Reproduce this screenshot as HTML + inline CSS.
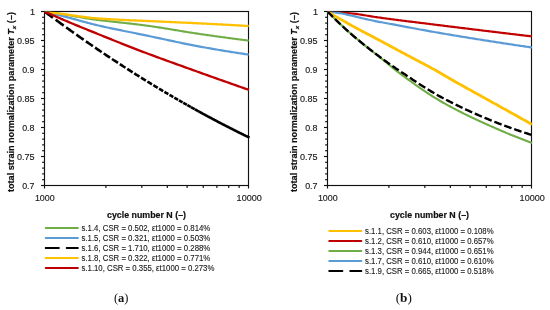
<!DOCTYPE html>
<html lang="en"><head><meta charset="utf-8"><title>Figure</title>
<style>html,body{margin:0;padding:0;background:#fff}svg{display:block}</style></head>
<body>
<svg width="550" height="310" viewBox="0 0 550 310" font-family="'Liberation Sans', sans-serif">
<rect width="550" height="310" fill="#fff"/>
<rect x="44.5" y="11.5" width="204" height="174" fill="none" stroke="#111" stroke-width="1.15"/>
<line x1="41.0" y1="11.50" x2="44.5" y2="11.50" stroke="#111" stroke-width="1.15"/>
<line x1="42.1" y1="17.30" x2="44.5" y2="17.30" stroke="#111" stroke-width="1.15"/>
<line x1="42.1" y1="23.10" x2="44.5" y2="23.10" stroke="#111" stroke-width="1.15"/>
<line x1="42.1" y1="28.90" x2="44.5" y2="28.90" stroke="#111" stroke-width="1.15"/>
<line x1="42.1" y1="34.70" x2="44.5" y2="34.70" stroke="#111" stroke-width="1.15"/>
<line x1="41.0" y1="40.50" x2="44.5" y2="40.50" stroke="#111" stroke-width="1.15"/>
<line x1="42.1" y1="46.30" x2="44.5" y2="46.30" stroke="#111" stroke-width="1.15"/>
<line x1="42.1" y1="52.10" x2="44.5" y2="52.10" stroke="#111" stroke-width="1.15"/>
<line x1="42.1" y1="57.90" x2="44.5" y2="57.90" stroke="#111" stroke-width="1.15"/>
<line x1="42.1" y1="63.70" x2="44.5" y2="63.70" stroke="#111" stroke-width="1.15"/>
<line x1="41.0" y1="69.50" x2="44.5" y2="69.50" stroke="#111" stroke-width="1.15"/>
<line x1="42.1" y1="75.30" x2="44.5" y2="75.30" stroke="#111" stroke-width="1.15"/>
<line x1="42.1" y1="81.10" x2="44.5" y2="81.10" stroke="#111" stroke-width="1.15"/>
<line x1="42.1" y1="86.90" x2="44.5" y2="86.90" stroke="#111" stroke-width="1.15"/>
<line x1="42.1" y1="92.70" x2="44.5" y2="92.70" stroke="#111" stroke-width="1.15"/>
<line x1="41.0" y1="98.50" x2="44.5" y2="98.50" stroke="#111" stroke-width="1.15"/>
<line x1="42.1" y1="104.30" x2="44.5" y2="104.30" stroke="#111" stroke-width="1.15"/>
<line x1="42.1" y1="110.10" x2="44.5" y2="110.10" stroke="#111" stroke-width="1.15"/>
<line x1="42.1" y1="115.90" x2="44.5" y2="115.90" stroke="#111" stroke-width="1.15"/>
<line x1="42.1" y1="121.70" x2="44.5" y2="121.70" stroke="#111" stroke-width="1.15"/>
<line x1="41.0" y1="127.50" x2="44.5" y2="127.50" stroke="#111" stroke-width="1.15"/>
<line x1="42.1" y1="133.30" x2="44.5" y2="133.30" stroke="#111" stroke-width="1.15"/>
<line x1="42.1" y1="139.10" x2="44.5" y2="139.10" stroke="#111" stroke-width="1.15"/>
<line x1="42.1" y1="144.90" x2="44.5" y2="144.90" stroke="#111" stroke-width="1.15"/>
<line x1="42.1" y1="150.70" x2="44.5" y2="150.70" stroke="#111" stroke-width="1.15"/>
<line x1="41.0" y1="156.50" x2="44.5" y2="156.50" stroke="#111" stroke-width="1.15"/>
<line x1="42.1" y1="162.30" x2="44.5" y2="162.30" stroke="#111" stroke-width="1.15"/>
<line x1="42.1" y1="168.10" x2="44.5" y2="168.10" stroke="#111" stroke-width="1.15"/>
<line x1="42.1" y1="173.90" x2="44.5" y2="173.90" stroke="#111" stroke-width="1.15"/>
<line x1="42.1" y1="179.70" x2="44.5" y2="179.70" stroke="#111" stroke-width="1.15"/>
<line x1="41.0" y1="185.50" x2="44.5" y2="185.50" stroke="#111" stroke-width="1.15"/>
<text x="30.1" y="14.5" font-size="9.0" fill="#1a1a1a" stroke="#1a1a1a" stroke-width="0.15">1</text>
<text x="16.9" y="43.5" font-size="9.0" fill="#1a1a1a" stroke="#1a1a1a" stroke-width="0.15" textLength="17.6" lengthAdjust="spacingAndGlyphs">0.95</text>
<text x="22.2" y="72.5" font-size="9.0" fill="#1a1a1a" stroke="#1a1a1a" stroke-width="0.15" textLength="12.3" lengthAdjust="spacingAndGlyphs">0.9</text>
<text x="16.9" y="101.5" font-size="9.0" fill="#1a1a1a" stroke="#1a1a1a" stroke-width="0.15" textLength="17.6" lengthAdjust="spacingAndGlyphs">0.85</text>
<text x="22.2" y="130.5" font-size="9.0" fill="#1a1a1a" stroke="#1a1a1a" stroke-width="0.15" textLength="12.3" lengthAdjust="spacingAndGlyphs">0.8</text>
<text x="16.9" y="159.5" font-size="9.0" fill="#1a1a1a" stroke="#1a1a1a" stroke-width="0.15" textLength="17.6" lengthAdjust="spacingAndGlyphs">0.75</text>
<text x="22.2" y="188.5" font-size="9.0" fill="#1a1a1a" stroke="#1a1a1a" stroke-width="0.15" textLength="12.3" lengthAdjust="spacingAndGlyphs">0.7</text>
<line x1="44.50" y1="185.5" x2="44.50" y2="188.5" stroke="#111" stroke-width="1.15"/>
<line x1="105.91" y1="185.5" x2="105.91" y2="187.9" stroke="#111" stroke-width="1.15"/>
<line x1="141.83" y1="185.5" x2="141.83" y2="187.9" stroke="#111" stroke-width="1.15"/>
<line x1="167.32" y1="185.5" x2="167.32" y2="187.9" stroke="#111" stroke-width="1.15"/>
<line x1="187.09" y1="185.5" x2="187.09" y2="187.9" stroke="#111" stroke-width="1.15"/>
<line x1="203.24" y1="185.5" x2="203.24" y2="187.9" stroke="#111" stroke-width="1.15"/>
<line x1="216.90" y1="185.5" x2="216.90" y2="187.9" stroke="#111" stroke-width="1.15"/>
<line x1="228.73" y1="185.5" x2="228.73" y2="187.9" stroke="#111" stroke-width="1.15"/>
<line x1="239.17" y1="185.5" x2="239.17" y2="187.9" stroke="#111" stroke-width="1.15"/>
<line x1="248.50" y1="185.5" x2="248.50" y2="188.5" stroke="#111" stroke-width="1.15"/>
<text x="34.9" y="201.3" font-size="9.0" fill="#1a1a1a" stroke="#1a1a1a" stroke-width="0.15" textLength="19.8" lengthAdjust="spacingAndGlyphs">1000</text>
<text x="236.6" y="201.3" font-size="9.0" fill="#1a1a1a" stroke="#1a1a1a" stroke-width="0.15" textLength="25.2" lengthAdjust="spacingAndGlyphs">10000</text>
<text x="146.5" y="217.8" text-anchor="middle" font-size="9.1" font-weight="bold" fill="#111" stroke="#111" stroke-width="0.2" textLength="79" lengthAdjust="spacingAndGlyphs">cycle number N (–)</text>
<text transform="translate(14.3,102) rotate(-90)" text-anchor="middle" font-size="9.1" font-weight="bold" fill="#111" stroke="#111" stroke-width="0.2" textLength="180" lengthAdjust="spacingAndGlyphs">total strain normalization parameter <tspan font-style="italic">T</tspan><tspan font-style="italic" font-size="6.2" dy="1.6">x</tspan><tspan dy="-1.6"> (–)</tspan></text>
<clipPath id="clip44"><rect x="44.3" y="11.8" width="205.7" height="174"/></clipPath><g clip-path="url(#clip44)">
<path d="M44.50,11.50 L45.78,11.70 L47.07,11.89 L48.35,12.09 L49.64,12.29 L50.92,12.49 L52.21,12.69 L53.49,12.89 L54.77,13.09 L56.06,13.29 L57.34,13.49 L58.63,13.69 L59.91,13.90 L61.20,14.10 L62.48,14.30 L63.76,14.51 L65.05,14.71 L66.33,14.91 L67.62,15.12 L68.90,15.32 L70.19,15.53 L71.47,15.74 L72.75,15.95 L74.04,16.17 L75.32,16.39 L76.61,16.61 L77.89,16.83 L79.18,17.05 L80.46,17.28 L81.74,17.50 L83.03,17.72 L84.31,17.94 L85.60,18.16 L86.88,18.37 L88.17,18.58 L89.45,18.79 L90.73,18.99 L92.02,19.18 L93.30,19.36 L94.59,19.54 L95.87,19.72 L97.16,19.88 L98.44,20.04 L99.72,20.20 L101.01,20.35 L102.29,20.49 L103.58,20.64 L104.86,20.78 L106.15,20.92 L107.43,21.06 L108.71,21.20 L110.00,21.34 L111.28,21.48 L112.57,21.62 L113.85,21.77 L115.14,21.92 L116.42,22.06 L117.70,22.21 L118.99,22.36 L120.27,22.50 L121.56,22.64 L122.84,22.79 L124.13,22.93 L125.41,23.07 L126.69,23.22 L127.98,23.36 L129.26,23.51 L130.55,23.65 L131.83,23.80 L133.12,23.95 L134.40,24.09 L135.68,24.24 L136.97,24.40 L138.25,24.55 L139.54,24.71 L140.82,24.87 L142.11,25.03 L143.39,25.19 L144.67,25.36 L145.96,25.53 L147.24,25.70 L148.53,25.88 L149.81,26.06 L151.09,26.24 L152.38,26.43 L153.66,26.62 L154.95,26.81 L156.23,27.00 L157.52,27.20 L158.80,27.40 L160.08,27.60 L161.37,27.80 L162.65,28.00 L163.94,28.21 L165.22,28.42 L166.51,28.62 L167.79,28.83 L169.07,29.04 L170.36,29.26 L171.64,29.47 L172.93,29.68 L174.21,29.89 L175.50,30.11 L176.78,30.32 L178.06,30.53 L179.35,30.74 L180.63,30.96 L181.92,31.17 L183.20,31.38 L184.49,31.59 L185.77,31.80 L187.05,32.00 L188.34,32.21 L189.62,32.42 L190.91,32.62 L192.19,32.82 L193.48,33.02 L194.76,33.22 L196.04,33.41 L197.33,33.61 L198.61,33.80 L199.90,33.99 L201.18,34.17 L202.47,34.36 L203.75,34.54 L205.03,34.73 L206.32,34.91 L207.60,35.09 L208.89,35.27 L210.17,35.46 L211.46,35.64 L212.74,35.82 L214.02,36.00 L215.31,36.18 L216.59,36.35 L217.88,36.53 L219.16,36.71 L220.45,36.88 L221.73,37.06 L223.01,37.24 L224.30,37.41 L225.58,37.58 L226.87,37.76 L228.15,37.93 L229.44,38.10 L230.72,38.27 L232.00,38.44 L233.29,38.61 L234.57,38.78 L235.86,38.95 L237.14,39.12 L238.43,39.29 L239.71,39.45 L240.99,39.62 L242.28,39.78 L243.56,39.95 L244.85,40.11 L246.13,40.28 L247.42,40.44 L248.70,40.60" fill="none" stroke="#70AD47" stroke-width="2.1" stroke-linejoin="round" stroke-linecap="butt"/>
<path d="M44.50,11.50 L45.78,11.82 L47.07,12.14 L48.35,12.46 L49.64,12.78 L50.92,13.11 L52.21,13.43 L53.49,13.75 L54.77,14.08 L56.06,14.41 L57.34,14.73 L58.63,15.06 L59.91,15.39 L61.20,15.72 L62.48,16.05 L63.76,16.38 L65.05,16.71 L66.33,17.04 L67.62,17.38 L68.90,17.71 L70.19,18.05 L71.47,18.39 L72.75,18.73 L74.04,19.08 L75.32,19.43 L76.61,19.78 L77.89,20.14 L79.18,20.50 L80.46,20.85 L81.74,21.21 L83.03,21.57 L84.31,21.92 L85.60,22.27 L86.88,22.62 L88.17,22.96 L89.45,23.30 L90.73,23.64 L92.02,23.97 L93.30,24.29 L94.59,24.60 L95.87,24.91 L97.16,25.21 L98.44,25.51 L99.72,25.80 L101.01,26.10 L102.29,26.39 L103.58,26.67 L104.86,26.96 L106.15,27.24 L107.43,27.51 L108.71,27.79 L110.00,28.06 L111.28,28.34 L112.57,28.61 L113.85,28.87 L115.14,29.14 L116.42,29.41 L117.70,29.67 L118.99,29.93 L120.27,30.19 L121.56,30.45 L122.84,30.71 L124.13,30.97 L125.41,31.23 L126.69,31.49 L127.98,31.75 L129.26,32.00 L130.55,32.26 L131.83,32.52 L133.12,32.78 L134.40,33.03 L135.68,33.29 L136.97,33.55 L138.25,33.81 L139.54,34.07 L140.82,34.34 L142.11,34.60 L143.39,34.87 L144.67,35.13 L145.96,35.40 L147.24,35.67 L148.53,35.94 L149.81,36.21 L151.09,36.48 L152.38,36.76 L153.66,37.03 L154.95,37.31 L156.23,37.58 L157.52,37.86 L158.80,38.13 L160.08,38.41 L161.37,38.69 L162.65,38.96 L163.94,39.24 L165.22,39.52 L166.51,39.79 L167.79,40.07 L169.07,40.35 L170.36,40.62 L171.64,40.89 L172.93,41.17 L174.21,41.44 L175.50,41.71 L176.78,41.98 L178.06,42.25 L179.35,42.52 L180.63,42.79 L181.92,43.06 L183.20,43.32 L184.49,43.58 L185.77,43.85 L187.05,44.10 L188.34,44.36 L189.62,44.62 L190.91,44.87 L192.19,45.12 L193.48,45.37 L194.76,45.62 L196.04,45.86 L197.33,46.11 L198.61,46.34 L199.90,46.58 L201.18,46.82 L202.47,47.05 L203.75,47.28 L205.03,47.51 L206.32,47.74 L207.60,47.97 L208.89,48.20 L210.17,48.42 L211.46,48.65 L212.74,48.87 L214.02,49.09 L215.31,49.32 L216.59,49.54 L217.88,49.75 L219.16,49.97 L220.45,50.19 L221.73,50.40 L223.01,50.62 L224.30,50.83 L225.58,51.04 L226.87,51.25 L228.15,51.46 L229.44,51.66 L230.72,51.87 L232.00,52.07 L233.29,52.28 L234.57,52.48 L235.86,52.68 L237.14,52.88 L238.43,53.07 L239.71,53.27 L240.99,53.46 L242.28,53.66 L243.56,53.85 L244.85,54.04 L246.13,54.23 L247.42,54.41 L248.70,54.60" fill="none" stroke="#5B9BD5" stroke-width="2.2" stroke-linejoin="round" stroke-linecap="butt"/>
<path d="M44.50,11.50 L45.27,12.07 L46.03,12.64 L46.80,13.21 L47.56,13.78 L48.33,14.35 L49.10,14.92 L49.87,15.49 L50.64,16.06 L51.40,16.62 L52.17,17.19 L52.94,17.76 M55.62,19.72 L56.42,20.31 L57.22,20.90 L58.03,21.48 L58.83,22.07 L59.64,22.66 L60.44,23.24 L61.25,23.83 L62.05,24.41 L62.86,24.99 L63.66,25.58 M66.21,27.41 L66.98,27.96 L67.74,28.51 L68.51,29.06 L69.28,29.61 L70.04,30.16 L70.81,30.70 L71.58,31.25 L72.34,31.80 L73.11,32.34 L73.88,32.89 M76.31,34.60 L77.12,35.18 L77.93,35.75 L78.74,36.32 L79.55,36.89 L80.36,37.45 L81.17,38.02 L81.98,38.59 L82.79,39.16 L83.60,39.72 M85.92,41.33 L86.69,41.86 L87.46,42.40 L88.23,42.93 L89.00,43.46 L89.77,43.99 L90.54,44.52 L91.31,45.05 L92.08,45.58 L92.86,46.11 M95.06,47.62 L95.88,48.18 L96.70,48.74 L97.53,49.30 L98.35,49.86 L99.18,50.42 L100.00,50.97 L100.83,51.53 L101.66,52.09 M103.74,53.49 L104.53,54.02 L105.31,54.54 L106.09,55.07 L106.88,55.59 L107.66,56.11 L108.45,56.63 L109.23,57.15 L110.02,57.68 M112.00,58.99 L112.74,59.48 L113.49,59.97 L114.23,60.46 L114.97,60.95 L115.72,61.44 L116.46,61.92 L117.21,62.41 L117.95,62.90 M119.84,64.12 L120.65,64.65 L121.45,65.17 L122.26,65.69 L123.07,66.22 L123.87,66.74 L124.68,67.26 L125.49,67.78 M127.28,68.93 L128.04,69.42 L128.81,69.91 L129.57,70.39 L130.34,70.88 L131.11,71.37 L131.87,71.86 L132.64,72.34 M134.34,73.42 L135.06,73.87 L135.79,74.33 L136.51,74.79 L137.24,75.24 L137.96,75.70 L138.69,76.15 L139.42,76.61 M141.03,77.61 L141.83,78.11 L142.63,78.61 L143.43,79.11 L144.24,79.61 L145.04,80.10 L145.84,80.60 M147.37,81.54 L148.13,82.00 L148.89,82.47 L149.65,82.94 L150.41,83.40 L151.17,83.87 L151.93,84.33 M153.37,85.21 L154.09,85.64 L154.81,86.08 L155.53,86.51 L156.25,86.95 L156.97,87.38 L157.69,87.82 M159.06,88.64 L159.87,89.13 L160.69,89.62 L161.51,90.11 L162.33,90.59 L163.15,91.08 M164.44,91.85 L165.21,92.31 L165.98,92.76 L166.76,93.22 L167.53,93.68 L168.31,94.13 M169.53,94.85 L170.27,95.29 L171.02,95.72 L171.76,96.16 L172.50,96.59 L173.25,97.02 M174.35,97.66 L175.08,98.09 L175.82,98.52 L176.56,98.94 L177.30,99.37 L178.04,99.79 M178.90,100.29 L179.63,100.71 L180.36,101.13 L181.08,101.54 L181.81,101.96 L182.54,102.38 M183.20,102.75 L183.92,103.16 L184.63,103.56 L185.35,103.97 L186.07,104.38 L186.79,104.78 M187.27,105.05 L187.97,105.45 L188.67,105.84 L189.37,106.24 L190.08,106.63 L190.78,107.02 M191.11,107.21 L191.83,107.61 L192.56,108.02 L193.29,108.42 L194.01,108.83 L194.74,109.23 M194.95,109.35 L195.70,109.76 L196.46,110.18 L197.21,110.59 L197.96,111.01 L198.71,111.42 M198.81,111.47 L199.58,111.90 L200.36,112.32 L201.14,112.75 L201.91,113.17 L202.69,113.60 M202.67,113.58 L203.47,114.02 L204.27,114.45 L205.07,114.89 L205.88,115.32 L206.68,115.76 M206.54,115.68 L207.35,116.12 L208.16,116.55 L208.98,116.99 L209.79,117.43 L210.61,117.86 M210.41,117.76 L211.23,118.19 L212.04,118.63 L212.86,119.06 L213.68,119.49 L214.49,119.93 M214.30,119.82 L215.12,120.26 L215.93,120.69 L216.75,121.12 L217.57,121.55 L218.39,121.98 M218.19,121.87 L219.01,122.30 L219.83,122.73 L220.65,123.16 L221.47,123.58 L222.29,124.01 M222.09,123.91 L222.91,124.33 L223.73,124.76 L224.55,125.18 L225.38,125.61 L226.20,126.03 M226.00,125.93 L226.82,126.35 L227.65,126.77 L228.47,127.19 L229.29,127.61 L230.11,128.03 M229.92,127.93 L230.74,128.35 L231.57,128.77 L232.39,129.19 L233.22,129.60 L234.04,130.02 M233.84,129.92 L234.67,130.34 L235.49,130.75 L236.32,131.17 L237.15,131.58 L237.97,131.99 M237.78,131.89 L238.60,132.31 L239.43,132.72 L240.26,133.13 L241.09,133.54 L241.92,133.95 M241.72,133.85 L242.55,134.26 L243.38,134.67 L244.20,135.08 L245.03,135.48 L245.86,135.89 M245.67,135.79 L246.43,136.17 L247.20,136.54 L247.97,136.91 L248.73,137.28 L249.50,137.66" fill="none" stroke="#000" stroke-width="2.6" stroke-linecap="butt"/>
<path d="M44.50,11.50 L45.78,11.68 L47.07,11.86 L48.35,12.04 L49.64,12.22 L50.92,12.40 L52.21,12.58 L53.49,12.76 L54.77,12.94 L56.06,13.12 L57.34,13.29 L58.63,13.47 L59.91,13.64 L61.20,13.82 L62.48,13.99 L63.76,14.17 L65.05,14.34 L66.33,14.51 L67.62,14.68 L68.90,14.85 L70.19,15.02 L71.47,15.20 L72.75,15.37 L74.04,15.55 L75.32,15.73 L76.61,15.92 L77.89,16.10 L79.18,16.28 L80.46,16.46 L81.74,16.64 L83.03,16.82 L84.31,16.99 L85.60,17.16 L86.88,17.33 L88.17,17.49 L89.45,17.64 L90.73,17.78 L92.02,17.92 L93.30,18.05 L94.59,18.16 L95.87,18.27 L97.16,18.38 L98.44,18.48 L99.72,18.58 L101.01,18.67 L102.29,18.76 L103.58,18.85 L104.86,18.94 L106.15,19.02 L107.43,19.10 L108.71,19.18 L110.00,19.25 L111.28,19.33 L112.57,19.40 L113.85,19.47 L115.14,19.54 L116.42,19.61 L117.70,19.68 L118.99,19.75 L120.27,19.81 L121.56,19.88 L122.84,19.94 L124.13,20.00 L125.41,20.06 L126.69,20.12 L127.98,20.18 L129.26,20.24 L130.55,20.29 L131.83,20.35 L133.12,20.40 L134.40,20.45 L135.68,20.51 L136.97,20.56 L138.25,20.61 L139.54,20.66 L140.82,20.71 L142.11,20.77 L143.39,20.82 L144.67,20.87 L145.96,20.93 L147.24,20.98 L148.53,21.04 L149.81,21.09 L151.09,21.15 L152.38,21.21 L153.66,21.26 L154.95,21.32 L156.23,21.38 L157.52,21.43 L158.80,21.49 L160.08,21.55 L161.37,21.61 L162.65,21.66 L163.94,21.72 L165.22,21.78 L166.51,21.84 L167.79,21.89 L169.07,21.95 L170.36,22.01 L171.64,22.07 L172.93,22.13 L174.21,22.18 L175.50,22.24 L176.78,22.30 L178.06,22.36 L179.35,22.42 L180.63,22.48 L181.92,22.54 L183.20,22.60 L184.49,22.66 L185.77,22.72 L187.05,22.78 L188.34,22.84 L189.62,22.90 L190.91,22.96 L192.19,23.02 L193.48,23.08 L194.76,23.14 L196.04,23.21 L197.33,23.27 L198.61,23.33 L199.90,23.39 L201.18,23.46 L202.47,23.52 L203.75,23.59 L205.03,23.65 L206.32,23.72 L207.60,23.78 L208.89,23.85 L210.17,23.91 L211.46,23.98 L212.74,24.04 L214.02,24.11 L215.31,24.18 L216.59,24.24 L217.88,24.31 L219.16,24.38 L220.45,24.45 L221.73,24.51 L223.01,24.58 L224.30,24.65 L225.58,24.72 L226.87,24.79 L228.15,24.86 L229.44,24.93 L230.72,25.00 L232.00,25.07 L233.29,25.14 L234.57,25.21 L235.86,25.28 L237.14,25.35 L238.43,25.42 L239.71,25.49 L240.99,25.56 L242.28,25.64 L243.56,25.71 L244.85,25.78 L246.13,25.85 L247.42,25.93 L248.70,26.00" fill="none" stroke="#FFC000" stroke-width="2.3" stroke-linejoin="round" stroke-linecap="butt"/>
<path d="M44.50,11.50 L45.79,12.08 L47.07,12.65 L48.36,13.22 L49.64,13.80 L50.93,14.37 L52.22,14.93 L53.50,15.50 L54.79,16.06 L56.08,16.63 L57.36,17.19 L58.65,17.75 L59.93,18.30 L61.22,18.86 L62.51,19.41 L63.79,19.96 L65.08,20.51 L66.36,21.06 L67.65,21.61 L68.94,22.15 L70.22,22.69 L71.51,23.23 L72.80,23.77 L74.08,24.31 L75.37,24.84 L76.65,25.37 L77.94,25.90 L79.23,26.42 L80.51,26.95 L81.80,27.47 L83.08,27.99 L84.37,28.51 L85.66,29.03 L86.94,29.55 L88.23,30.07 L89.52,30.59 L90.80,31.11 L92.09,31.63 L93.37,32.14 L94.66,32.66 L95.95,33.18 L97.23,33.70 L98.52,34.22 L99.81,34.74 L101.09,35.26 L102.38,35.79 L103.66,36.31 L104.95,36.83 L106.24,37.35 L107.52,37.87 L108.81,38.39 L110.09,38.91 L111.38,39.43 L112.67,39.95 L113.95,40.47 L115.24,40.99 L116.53,41.50 L117.81,42.02 L119.10,42.54 L120.38,43.05 L121.67,43.56 L122.96,44.08 L124.24,44.59 L125.53,45.10 L126.81,45.61 L128.10,46.11 L129.39,46.62 L130.67,47.12 L131.96,47.62 L133.25,48.12 L134.53,48.62 L135.82,49.12 L137.10,49.61 L138.39,50.10 L139.68,50.59 L140.96,51.08 L142.25,51.57 L143.53,52.05 L144.82,52.54 L146.11,53.02 L147.39,53.50 L148.68,53.98 L149.97,54.46 L151.25,54.94 L152.54,55.42 L153.82,55.89 L155.11,56.37 L156.40,56.84 L157.68,57.31 L158.97,57.78 L160.25,58.25 L161.54,58.72 L162.83,59.19 L164.11,59.66 L165.40,60.13 L166.69,60.59 L167.97,61.06 L169.26,61.53 L170.54,61.99 L171.83,62.46 L173.12,62.92 L174.40,63.38 L175.69,63.85 L176.97,64.31 L178.26,64.77 L179.55,65.24 L180.83,65.70 L182.12,66.16 L183.41,66.62 L184.69,67.09 L185.98,67.55 L187.26,68.01 L188.55,68.47 L189.84,68.93 L191.12,69.40 L192.41,69.86 L193.69,70.32 L194.98,70.78 L196.27,71.25 L197.55,71.71 L198.84,72.17 L200.13,72.63 L201.41,73.09 L202.70,73.55 L203.98,74.01 L205.27,74.47 L206.56,74.93 L207.84,75.39 L209.13,75.85 L210.42,76.31 L211.70,76.77 L212.99,77.22 L214.27,77.68 L215.56,78.14 L216.85,78.60 L218.13,79.05 L219.42,79.51 L220.70,79.96 L221.99,80.42 L223.28,80.87 L224.56,81.33 L225.85,81.78 L227.14,82.24 L228.42,82.69 L229.71,83.14 L230.99,83.60 L232.28,84.05 L233.57,84.50 L234.85,84.95 L236.14,85.40 L237.42,85.86 L238.71,86.31 L240.00,86.76 L241.28,87.21 L242.57,87.66 L243.86,88.11 L245.14,88.56 L246.43,89.00 L247.71,89.45 L249.00,89.90" fill="none" stroke="#C00000" stroke-width="2.3" stroke-linejoin="round" stroke-linecap="butt"/>
</g>
<line x1="45.7" y1="228" x2="77.9" y2="228" stroke="#70AD47" stroke-width="1.9" stroke-linecap="round"/>
<text x="81.5" y="231.1" font-size="8.4" fill="#1a1a1a" stroke="#1a1a1a" stroke-width="0.12" textLength="128.8" lengthAdjust="spacingAndGlyphs">s.1.4, CSR = 0.502, εt1000 = 0.814%</text>
<line x1="45.7" y1="238" x2="77.9" y2="238" stroke="#5B9BD5" stroke-width="1.9" stroke-linecap="round"/>
<text x="81.5" y="241.1" font-size="8.4" fill="#1a1a1a" stroke="#1a1a1a" stroke-width="0.12" textLength="128.8" lengthAdjust="spacingAndGlyphs">s.1.5, CSR = 0.321, εt1000 = 0.503%</text>
<path d="M45.7,248 h13.2 M66.7,248 h11.2" stroke="#000" stroke-width="1.9" stroke-linecap="round" fill="none"/>
<text x="81.5" y="251.1" font-size="8.4" fill="#1a1a1a" stroke="#1a1a1a" stroke-width="0.12" textLength="128.8" lengthAdjust="spacingAndGlyphs">s.1.6, CSR = 1.710, εt1000 = 0.288%</text>
<line x1="45.7" y1="258" x2="77.9" y2="258" stroke="#FFC000" stroke-width="1.9" stroke-linecap="round"/>
<text x="81.5" y="261.1" font-size="8.4" fill="#1a1a1a" stroke="#1a1a1a" stroke-width="0.12" textLength="128.8" lengthAdjust="spacingAndGlyphs">s.1.8, CSR = 0.322, εt1000 = 0.771%</text>
<line x1="45.7" y1="268" x2="77.9" y2="268" stroke="#C00000" stroke-width="1.9" stroke-linecap="round"/>
<text x="81.5" y="271.1" font-size="8.4" fill="#1a1a1a" stroke="#1a1a1a" stroke-width="0.12" textLength="132.8" lengthAdjust="spacingAndGlyphs">s.1.10, CSR = 0.355, εt1000 = 0.273%</text>
<text x="121.2" y="302.3" text-anchor="middle" font-family="'Liberation Serif', serif" font-size="12.5" fill="#111">(<tspan font-weight="bold">a</tspan>)</text>
<rect x="327.5" y="11.5" width="204" height="174" fill="none" stroke="#111" stroke-width="1.15"/>
<line x1="324.0" y1="11.50" x2="327.5" y2="11.50" stroke="#111" stroke-width="1.15"/>
<line x1="325.1" y1="17.30" x2="327.5" y2="17.30" stroke="#111" stroke-width="1.15"/>
<line x1="325.1" y1="23.10" x2="327.5" y2="23.10" stroke="#111" stroke-width="1.15"/>
<line x1="325.1" y1="28.90" x2="327.5" y2="28.90" stroke="#111" stroke-width="1.15"/>
<line x1="325.1" y1="34.70" x2="327.5" y2="34.70" stroke="#111" stroke-width="1.15"/>
<line x1="324.0" y1="40.50" x2="327.5" y2="40.50" stroke="#111" stroke-width="1.15"/>
<line x1="325.1" y1="46.30" x2="327.5" y2="46.30" stroke="#111" stroke-width="1.15"/>
<line x1="325.1" y1="52.10" x2="327.5" y2="52.10" stroke="#111" stroke-width="1.15"/>
<line x1="325.1" y1="57.90" x2="327.5" y2="57.90" stroke="#111" stroke-width="1.15"/>
<line x1="325.1" y1="63.70" x2="327.5" y2="63.70" stroke="#111" stroke-width="1.15"/>
<line x1="324.0" y1="69.50" x2="327.5" y2="69.50" stroke="#111" stroke-width="1.15"/>
<line x1="325.1" y1="75.30" x2="327.5" y2="75.30" stroke="#111" stroke-width="1.15"/>
<line x1="325.1" y1="81.10" x2="327.5" y2="81.10" stroke="#111" stroke-width="1.15"/>
<line x1="325.1" y1="86.90" x2="327.5" y2="86.90" stroke="#111" stroke-width="1.15"/>
<line x1="325.1" y1="92.70" x2="327.5" y2="92.70" stroke="#111" stroke-width="1.15"/>
<line x1="324.0" y1="98.50" x2="327.5" y2="98.50" stroke="#111" stroke-width="1.15"/>
<line x1="325.1" y1="104.30" x2="327.5" y2="104.30" stroke="#111" stroke-width="1.15"/>
<line x1="325.1" y1="110.10" x2="327.5" y2="110.10" stroke="#111" stroke-width="1.15"/>
<line x1="325.1" y1="115.90" x2="327.5" y2="115.90" stroke="#111" stroke-width="1.15"/>
<line x1="325.1" y1="121.70" x2="327.5" y2="121.70" stroke="#111" stroke-width="1.15"/>
<line x1="324.0" y1="127.50" x2="327.5" y2="127.50" stroke="#111" stroke-width="1.15"/>
<line x1="325.1" y1="133.30" x2="327.5" y2="133.30" stroke="#111" stroke-width="1.15"/>
<line x1="325.1" y1="139.10" x2="327.5" y2="139.10" stroke="#111" stroke-width="1.15"/>
<line x1="325.1" y1="144.90" x2="327.5" y2="144.90" stroke="#111" stroke-width="1.15"/>
<line x1="325.1" y1="150.70" x2="327.5" y2="150.70" stroke="#111" stroke-width="1.15"/>
<line x1="324.0" y1="156.50" x2="327.5" y2="156.50" stroke="#111" stroke-width="1.15"/>
<line x1="325.1" y1="162.30" x2="327.5" y2="162.30" stroke="#111" stroke-width="1.15"/>
<line x1="325.1" y1="168.10" x2="327.5" y2="168.10" stroke="#111" stroke-width="1.15"/>
<line x1="325.1" y1="173.90" x2="327.5" y2="173.90" stroke="#111" stroke-width="1.15"/>
<line x1="325.1" y1="179.70" x2="327.5" y2="179.70" stroke="#111" stroke-width="1.15"/>
<line x1="324.0" y1="185.50" x2="327.5" y2="185.50" stroke="#111" stroke-width="1.15"/>
<text x="313.1" y="14.5" font-size="9.0" fill="#1a1a1a" stroke="#1a1a1a" stroke-width="0.15">1</text>
<text x="299.9" y="43.5" font-size="9.0" fill="#1a1a1a" stroke="#1a1a1a" stroke-width="0.15" textLength="17.6" lengthAdjust="spacingAndGlyphs">0.95</text>
<text x="305.2" y="72.5" font-size="9.0" fill="#1a1a1a" stroke="#1a1a1a" stroke-width="0.15" textLength="12.3" lengthAdjust="spacingAndGlyphs">0.9</text>
<text x="299.9" y="101.5" font-size="9.0" fill="#1a1a1a" stroke="#1a1a1a" stroke-width="0.15" textLength="17.6" lengthAdjust="spacingAndGlyphs">0.85</text>
<text x="305.2" y="130.5" font-size="9.0" fill="#1a1a1a" stroke="#1a1a1a" stroke-width="0.15" textLength="12.3" lengthAdjust="spacingAndGlyphs">0.8</text>
<text x="299.9" y="159.5" font-size="9.0" fill="#1a1a1a" stroke="#1a1a1a" stroke-width="0.15" textLength="17.6" lengthAdjust="spacingAndGlyphs">0.75</text>
<text x="305.2" y="188.5" font-size="9.0" fill="#1a1a1a" stroke="#1a1a1a" stroke-width="0.15" textLength="12.3" lengthAdjust="spacingAndGlyphs">0.7</text>
<line x1="327.50" y1="185.5" x2="327.50" y2="188.5" stroke="#111" stroke-width="1.15"/>
<line x1="388.91" y1="185.5" x2="388.91" y2="187.9" stroke="#111" stroke-width="1.15"/>
<line x1="424.83" y1="185.5" x2="424.83" y2="187.9" stroke="#111" stroke-width="1.15"/>
<line x1="450.32" y1="185.5" x2="450.32" y2="187.9" stroke="#111" stroke-width="1.15"/>
<line x1="470.09" y1="185.5" x2="470.09" y2="187.9" stroke="#111" stroke-width="1.15"/>
<line x1="486.24" y1="185.5" x2="486.24" y2="187.9" stroke="#111" stroke-width="1.15"/>
<line x1="499.90" y1="185.5" x2="499.90" y2="187.9" stroke="#111" stroke-width="1.15"/>
<line x1="511.73" y1="185.5" x2="511.73" y2="187.9" stroke="#111" stroke-width="1.15"/>
<line x1="522.17" y1="185.5" x2="522.17" y2="187.9" stroke="#111" stroke-width="1.15"/>
<line x1="531.50" y1="185.5" x2="531.50" y2="188.5" stroke="#111" stroke-width="1.15"/>
<text x="317.9" y="201.3" font-size="9.0" fill="#1a1a1a" stroke="#1a1a1a" stroke-width="0.15" textLength="19.8" lengthAdjust="spacingAndGlyphs">1000</text>
<text x="519.6" y="201.3" font-size="9.0" fill="#1a1a1a" stroke="#1a1a1a" stroke-width="0.15" textLength="25.2" lengthAdjust="spacingAndGlyphs">10000</text>
<text x="429.5" y="217.8" text-anchor="middle" font-size="9.1" font-weight="bold" fill="#111" stroke="#111" stroke-width="0.2" textLength="79" lengthAdjust="spacingAndGlyphs">cycle number N (–)</text>
<text transform="translate(297.3,102) rotate(-90)" text-anchor="middle" font-size="9.1" font-weight="bold" fill="#111" stroke="#111" stroke-width="0.2" textLength="180" lengthAdjust="spacingAndGlyphs">total strain normalization parameter <tspan font-style="italic">T</tspan><tspan font-style="italic" font-size="6.2" dy="1.6">x</tspan><tspan dy="-1.6"> (–)</tspan></text>
<clipPath id="clip327"><rect x="327.3" y="11.8" width="205.7" height="174"/></clipPath><g clip-path="url(#clip327)">
<path d="M327.50,11.50 L328.79,12.80 L330.07,14.09 L331.36,15.38 L332.64,16.66 L333.93,17.93 L335.22,19.19 L336.50,20.45 L337.79,21.69 L339.08,22.93 L340.36,24.15 L341.65,25.37 L342.93,26.58 L344.22,27.77 L345.51,28.96 L346.79,30.13 L348.08,31.29 L349.36,32.44 L350.65,33.57 L351.94,34.69 L353.22,35.80 L354.51,36.90 L355.80,37.99 L357.08,39.07 L358.37,40.13 L359.65,41.19 L360.94,42.25 L362.23,43.29 L363.51,44.33 L364.80,45.36 L366.08,46.39 L367.37,47.41 L368.66,48.43 L369.94,49.45 L371.23,50.46 L372.52,51.48 L373.80,52.49 L375.09,53.50 L376.37,54.52 L377.66,55.53 L378.95,56.55 L380.23,57.58 L381.52,58.60 L382.81,59.64 L384.09,60.67 L385.38,61.72 L386.66,62.77 L387.95,63.83 L389.24,64.90 L390.52,65.96 L391.81,67.02 L393.09,68.07 L394.38,69.11 L395.67,70.15 L396.95,71.16 L398.24,72.16 L399.53,73.14 L400.81,74.11 L402.10,75.06 L403.38,76.02 L404.67,76.97 L405.96,77.92 L407.24,78.86 L408.53,79.80 L409.81,80.74 L411.10,81.67 L412.39,82.60 L413.67,83.52 L414.96,84.43 L416.25,85.35 L417.53,86.25 L418.82,87.15 L420.10,88.04 L421.39,88.93 L422.68,89.81 L423.96,90.68 L425.25,91.54 L426.53,92.40 L427.82,93.25 L429.11,94.09 L430.39,94.92 L431.68,95.75 L432.97,96.56 L434.25,97.37 L435.54,98.16 L436.82,98.95 L438.11,99.72 L439.40,100.49 L440.68,101.24 L441.97,101.98 L443.25,102.72 L444.54,103.44 L445.83,104.16 L447.11,104.87 L448.40,105.58 L449.69,106.28 L450.97,106.97 L452.26,107.66 L453.54,108.34 L454.83,109.02 L456.12,109.69 L457.40,110.35 L458.69,111.01 L459.97,111.66 L461.26,112.31 L462.55,112.95 L463.83,113.59 L465.12,114.23 L466.41,114.86 L467.69,115.48 L468.98,116.10 L470.26,116.72 L471.55,117.33 L472.84,117.94 L474.12,118.55 L475.41,119.15 L476.69,119.75 L477.98,120.34 L479.27,120.93 L480.55,121.52 L481.84,122.11 L483.13,122.70 L484.41,123.28 L485.70,123.86 L486.98,124.44 L488.27,125.01 L489.56,125.59 L490.84,126.16 L492.13,126.73 L493.42,127.30 L494.70,127.87 L495.99,128.43 L497.27,129.00 L498.56,129.56 L499.85,130.12 L501.13,130.67 L502.42,131.22 L503.70,131.77 L504.99,132.31 L506.28,132.85 L507.56,133.39 L508.85,133.92 L510.14,134.45 L511.42,134.98 L512.71,135.51 L513.99,136.03 L515.28,136.55 L516.57,137.06 L517.85,137.57 L519.14,138.08 L520.42,138.59 L521.71,139.09 L523.00,139.59 L524.28,140.09 L525.57,140.58 L526.86,141.07 L528.14,141.56 L529.43,142.04 L530.71,142.52 L532.00,143.00" fill="none" stroke="#70AD47" stroke-width="2.1" stroke-linejoin="round" stroke-linecap="butt"/>
<path d="M327.50,11.50 L328.79,11.56 L330.07,11.63 L331.36,11.71 L332.64,11.79 L333.93,11.87 L335.22,11.96 L336.50,12.06 L337.79,12.16 L339.08,12.26 L340.36,12.37 L341.65,12.48 L342.93,12.60 L344.22,12.71 L345.51,12.84 L346.79,12.96 L348.08,13.09 L349.36,13.22 L350.65,13.35 L351.94,13.49 L353.22,13.62 L354.51,13.77 L355.80,13.93 L357.08,14.10 L358.37,14.28 L359.65,14.47 L360.94,14.66 L362.23,14.86 L363.51,15.07 L364.80,15.28 L366.08,15.49 L367.37,15.71 L368.66,15.92 L369.94,16.14 L371.23,16.35 L372.52,16.56 L373.80,16.77 L375.09,16.97 L376.37,17.17 L377.66,17.35 L378.95,17.53 L380.23,17.71 L381.52,17.89 L382.81,18.06 L384.09,18.24 L385.38,18.41 L386.66,18.58 L387.95,18.76 L389.24,18.93 L390.52,19.10 L391.81,19.26 L393.09,19.43 L394.38,19.60 L395.67,19.76 L396.95,19.93 L398.24,20.09 L399.53,20.26 L400.81,20.42 L402.10,20.58 L403.38,20.74 L404.67,20.90 L405.96,21.06 L407.24,21.22 L408.53,21.38 L409.81,21.54 L411.10,21.70 L412.39,21.86 L413.67,22.02 L414.96,22.18 L416.25,22.34 L417.53,22.49 L418.82,22.65 L420.10,22.81 L421.39,22.97 L422.68,23.13 L423.96,23.28 L425.25,23.44 L426.53,23.60 L427.82,23.76 L429.11,23.92 L430.39,24.08 L431.68,24.24 L432.97,24.40 L434.25,24.56 L435.54,24.72 L436.82,24.88 L438.11,25.04 L439.40,25.19 L440.68,25.35 L441.97,25.51 L443.25,25.67 L444.54,25.83 L445.83,25.99 L447.11,26.15 L448.40,26.31 L449.69,26.47 L450.97,26.63 L452.26,26.79 L453.54,26.95 L454.83,27.10 L456.12,27.26 L457.40,27.42 L458.69,27.58 L459.97,27.74 L461.26,27.89 L462.55,28.05 L463.83,28.21 L465.12,28.37 L466.41,28.53 L467.69,28.68 L468.98,28.84 L470.26,29.00 L471.55,29.16 L472.84,29.31 L474.12,29.47 L475.41,29.63 L476.69,29.78 L477.98,29.94 L479.27,30.10 L480.55,30.25 L481.84,30.41 L483.13,30.56 L484.41,30.72 L485.70,30.88 L486.98,31.03 L488.27,31.19 L489.56,31.34 L490.84,31.50 L492.13,31.65 L493.42,31.81 L494.70,31.96 L495.99,32.12 L497.27,32.27 L498.56,32.43 L499.85,32.58 L501.13,32.74 L502.42,32.89 L503.70,33.05 L504.99,33.20 L506.28,33.35 L507.56,33.51 L508.85,33.66 L510.14,33.81 L511.42,33.97 L512.71,34.12 L513.99,34.27 L515.28,34.43 L516.57,34.58 L517.85,34.73 L519.14,34.88 L520.42,35.04 L521.71,35.19 L523.00,35.34 L524.28,35.49 L525.57,35.64 L526.86,35.80 L528.14,35.95 L529.43,36.10 L530.71,36.25 L532.00,36.40" fill="none" stroke="#C00000" stroke-width="2.2" stroke-linejoin="round" stroke-linecap="butt"/>
<path d="M327.50,11.50 L328.79,11.63 L330.07,11.77 L331.36,11.93 L332.64,12.09 L333.93,12.27 L335.22,12.45 L336.50,12.64 L337.79,12.84 L339.08,13.05 L340.36,13.26 L341.65,13.49 L342.93,13.74 L344.22,14.01 L345.51,14.28 L346.79,14.57 L348.08,14.87 L349.36,15.16 L350.65,15.46 L351.94,15.76 L353.22,16.05 L354.51,16.34 L355.80,16.65 L357.08,16.95 L358.37,17.26 L359.65,17.58 L360.94,17.89 L362.23,18.20 L363.51,18.51 L364.80,18.82 L366.08,19.12 L367.37,19.42 L368.66,19.71 L369.94,19.99 L371.23,20.26 L372.52,20.53 L373.80,20.79 L375.09,21.05 L376.37,21.30 L377.66,21.55 L378.95,21.80 L380.23,22.05 L381.52,22.29 L382.81,22.53 L384.09,22.77 L385.38,23.01 L386.66,23.25 L387.95,23.49 L389.24,23.72 L390.52,23.96 L391.81,24.19 L393.09,24.43 L394.38,24.66 L395.67,24.90 L396.95,25.13 L398.24,25.37 L399.53,25.61 L400.81,25.85 L402.10,26.09 L403.38,26.34 L404.67,26.58 L405.96,26.82 L407.24,27.06 L408.53,27.30 L409.81,27.55 L411.10,27.79 L412.39,28.03 L413.67,28.27 L414.96,28.51 L416.25,28.75 L417.53,28.99 L418.82,29.23 L420.10,29.47 L421.39,29.71 L422.68,29.94 L423.96,30.18 L425.25,30.41 L426.53,30.65 L427.82,30.88 L429.11,31.11 L430.39,31.34 L431.68,31.57 L432.97,31.79 L434.25,32.02 L435.54,32.24 L436.82,32.47 L438.11,32.69 L439.40,32.91 L440.68,33.13 L441.97,33.35 L443.25,33.57 L444.54,33.79 L445.83,34.01 L447.11,34.23 L448.40,34.45 L449.69,34.66 L450.97,34.88 L452.26,35.09 L453.54,35.31 L454.83,35.52 L456.12,35.73 L457.40,35.95 L458.69,36.16 L459.97,36.37 L461.26,36.58 L462.55,36.79 L463.83,37.00 L465.12,37.21 L466.41,37.42 L467.69,37.63 L468.98,37.84 L470.26,38.04 L471.55,38.25 L472.84,38.46 L474.12,38.66 L475.41,38.87 L476.69,39.07 L477.98,39.28 L479.27,39.48 L480.55,39.69 L481.84,39.89 L483.13,40.10 L484.41,40.30 L485.70,40.50 L486.98,40.70 L488.27,40.90 L489.56,41.11 L490.84,41.31 L492.13,41.51 L493.42,41.71 L494.70,41.91 L495.99,42.11 L497.27,42.31 L498.56,42.50 L499.85,42.70 L501.13,42.90 L502.42,43.10 L503.70,43.29 L504.99,43.49 L506.28,43.68 L507.56,43.88 L508.85,44.07 L510.14,44.27 L511.42,44.46 L512.71,44.66 L513.99,44.85 L515.28,45.04 L516.57,45.23 L517.85,45.43 L519.14,45.62 L520.42,45.81 L521.71,46.00 L523.00,46.19 L524.28,46.38 L525.57,46.56 L526.86,46.75 L528.14,46.94 L529.43,47.13 L530.71,47.31 L532.00,47.50" fill="none" stroke="#5B9BD5" stroke-width="2.2" stroke-linejoin="round" stroke-linecap="butt"/>
<path d="M327.50,11.50 L328.79,12.28 L330.07,13.05 L331.36,13.82 L332.64,14.59 L333.93,15.35 L335.22,16.11 L336.50,16.87 L337.79,17.62 L339.08,18.37 L340.36,19.12 L341.65,19.86 L342.93,20.60 L344.22,21.34 L345.51,22.07 L346.79,22.80 L348.08,23.53 L349.36,24.25 L350.65,24.97 L351.94,25.69 L353.22,26.40 L354.51,27.10 L355.80,27.80 L357.08,28.50 L358.37,29.19 L359.65,29.87 L360.94,30.55 L362.23,31.23 L363.51,31.91 L364.80,32.58 L366.08,33.25 L367.37,33.92 L368.66,34.59 L369.94,35.26 L371.23,35.93 L372.52,36.61 L373.80,37.28 L375.09,37.96 L376.37,38.64 L377.66,39.32 L378.95,40.00 L380.23,40.69 L381.52,41.38 L382.81,42.07 L384.09,42.76 L385.38,43.45 L386.66,44.14 L387.95,44.83 L389.24,45.52 L390.52,46.22 L391.81,46.91 L393.09,47.60 L394.38,48.29 L395.67,48.99 L396.95,49.68 L398.24,50.37 L399.53,51.06 L400.81,51.75 L402.10,52.44 L403.38,53.13 L404.67,53.82 L405.96,54.51 L407.24,55.20 L408.53,55.88 L409.81,56.56 L411.10,57.24 L412.39,57.92 L413.67,58.59 L414.96,59.27 L416.25,59.94 L417.53,60.62 L418.82,61.30 L420.10,61.97 L421.39,62.65 L422.68,63.33 L423.96,64.01 L425.25,64.70 L426.53,65.39 L427.82,66.08 L429.11,66.77 L430.39,67.47 L431.68,68.17 L432.97,68.87 L434.25,69.58 L435.54,70.30 L436.82,71.02 L438.11,71.76 L439.40,72.50 L440.68,73.24 L441.97,73.99 L443.25,74.74 L444.54,75.50 L445.83,76.25 L447.11,77.01 L448.40,77.76 L449.69,78.51 L450.97,79.26 L452.26,80.00 L453.54,80.74 L454.83,81.47 L456.12,82.20 L457.40,82.93 L458.69,83.65 L459.97,84.37 L461.26,85.09 L462.55,85.81 L463.83,86.53 L465.12,87.24 L466.41,87.96 L467.69,88.67 L468.98,89.38 L470.26,90.09 L471.55,90.81 L472.84,91.52 L474.12,92.22 L475.41,92.93 L476.69,93.64 L477.98,94.35 L479.27,95.06 L480.55,95.77 L481.84,96.48 L483.13,97.19 L484.41,97.90 L485.70,98.61 L486.98,99.33 L488.27,100.04 L489.56,100.75 L490.84,101.47 L492.13,102.18 L493.42,102.90 L494.70,103.62 L495.99,104.33 L497.27,105.05 L498.56,105.76 L499.85,106.48 L501.13,107.20 L502.42,107.91 L503.70,108.63 L504.99,109.34 L506.28,110.06 L507.56,110.78 L508.85,111.49 L510.14,112.21 L511.42,112.93 L512.71,113.64 L513.99,114.36 L515.28,115.08 L516.57,115.79 L517.85,116.51 L519.14,117.23 L520.42,117.94 L521.71,118.66 L523.00,119.38 L524.28,120.10 L525.57,120.81 L526.86,121.53 L528.14,122.25 L529.43,122.96 L530.71,123.68 L532.00,124.40" fill="none" stroke="#FFC000" stroke-width="2.8" stroke-linejoin="round" stroke-linecap="butt"/>
<path d="M327.50,11.50 L328.18,12.19 L328.86,12.88 L329.54,13.57 L330.22,14.25 L330.90,14.94 L331.58,15.63 L332.27,16.31 L332.95,16.99 M334.99,19.00 L335.68,19.68 L336.37,20.36 L337.06,21.03 L337.76,21.71 L338.45,22.38 L339.15,23.05 L339.85,23.71 L340.55,24.38 M342.64,26.34 L343.34,27.00 L344.05,27.66 L344.77,28.31 L345.48,28.97 L346.20,29.61 L346.91,30.26 L347.63,30.91 L348.36,31.55 M350.51,33.44 L351.24,34.07 L351.97,34.71 L352.70,35.34 L353.44,35.97 L354.17,36.59 L354.91,37.22 L355.65,37.84 L356.39,38.46 M358.59,40.29 L359.34,40.91 L360.09,41.52 L360.83,42.14 L361.58,42.75 L362.34,43.36 L363.09,43.96 L363.84,44.57 L364.60,45.17 M366.84,46.95 L367.60,47.55 L368.36,48.15 L369.12,48.75 L369.88,49.34 L370.65,49.93 L371.41,50.53 L372.18,51.12 L372.95,51.71 M375.22,53.44 L375.99,54.03 L376.76,54.61 L377.54,55.19 L378.31,55.77 L379.08,56.35 L379.86,56.93 L380.63,57.51 L381.41,58.09 M383.71,59.79 L384.49,60.36 L385.27,60.93 L386.06,61.50 L386.84,62.07 L387.63,62.63 L388.41,63.19 L389.20,63.75 L389.99,64.31 M392.34,65.95 L393.13,66.50 L393.93,67.05 L394.73,67.60 L395.52,68.14 L396.32,68.69 L397.12,69.23 L397.93,69.77 L398.73,70.31 M401.11,71.90 L401.91,72.44 L402.72,72.98 L403.52,73.51 L404.33,74.05 L405.13,74.59 L405.93,75.12 L406.74,75.66 L407.54,76.20 M409.92,77.79 L410.73,78.33 L411.53,78.86 L412.34,79.40 L413.14,79.94 L413.95,80.47 L414.75,81.01 L415.56,81.54 L416.37,82.07 M418.76,83.64 L419.57,84.17 L420.38,84.70 L421.19,85.22 L422.01,85.74 L422.82,86.27 L423.64,86.79 L424.45,87.31 L425.27,87.82 M427.70,89.34 L428.52,89.84 L429.35,90.35 L430.17,90.85 L431.00,91.35 L431.83,91.85 L432.66,92.34 L433.50,92.83 L434.33,93.32 M436.82,94.74 L437.66,95.21 L438.51,95.68 L439.35,96.15 L440.21,96.61 L441.06,97.07 L441.91,97.53 L442.76,97.98 L443.62,98.43 M446.15,99.76 L447.01,100.21 L447.87,100.65 L448.73,101.10 L449.59,101.54 L450.45,101.98 L451.31,102.41 L452.18,102.85 L453.04,103.28 M455.61,104.56 L456.47,104.99 L457.34,105.41 L458.21,105.83 L459.08,106.26 L459.95,106.68 L460.82,107.10 L461.70,107.51 L462.57,107.93 M465.16,109.15 L466.04,109.56 L466.91,109.97 L467.79,110.37 L468.67,110.77 L469.55,111.18 L470.43,111.58 L471.31,111.98 L472.19,112.37 M474.81,113.54 L475.69,113.93 L476.58,114.32 L477.46,114.71 L478.35,115.09 L479.24,115.48 L480.13,115.86 L481.01,116.24 L481.90,116.62 M484.54,117.74 L485.43,118.11 L486.33,118.48 L487.22,118.85 L488.11,119.22 L489.01,119.59 L489.90,119.95 L490.80,120.32 L491.70,120.68 M494.35,121.74 L495.25,122.10 L496.15,122.45 L497.05,122.81 L497.95,123.16 L498.86,123.51 L499.76,123.86 L500.66,124.20 L501.57,124.55 M504.24,125.56 L505.15,125.90 L506.06,126.23 L506.96,126.57 L507.87,126.90 L508.78,127.23 L509.69,127.56 L510.60,127.89 L511.51,128.21 M514.21,129.17 L515.12,129.48 L516.04,129.80 L516.95,130.11 L517.87,130.43 L518.78,130.74 L519.70,131.05 L520.62,131.36 L521.53,131.66 M524.25,132.55 L525.17,132.85 L526.09,133.15 L527.02,133.44 L527.94,133.74 L528.86,134.03 L529.78,134.31 L530.71,134.60 L531.63,134.89" fill="none" stroke="#000" stroke-width="2.4" stroke-linecap="butt"/>
</g>
<line x1="329.2" y1="231" x2="361.4" y2="231" stroke="#FFC000" stroke-width="1.9" stroke-linecap="round"/>
<text x="365.0" y="234.1" font-size="8.4" fill="#1a1a1a" stroke="#1a1a1a" stroke-width="0.12" textLength="128.6" lengthAdjust="spacingAndGlyphs">s.1.1, CSR = 0.603, εt1000 = 0.108%</text>
<line x1="329.2" y1="241" x2="361.4" y2="241" stroke="#C00000" stroke-width="1.9" stroke-linecap="round"/>
<text x="365.0" y="244.1" font-size="8.4" fill="#1a1a1a" stroke="#1a1a1a" stroke-width="0.12" textLength="128.6" lengthAdjust="spacingAndGlyphs">s.1.2, CSR = 0.610, εt1000 = 0.657%</text>
<line x1="329.2" y1="251" x2="361.4" y2="251" stroke="#70AD47" stroke-width="1.9" stroke-linecap="round"/>
<text x="365.0" y="254.1" font-size="8.4" fill="#1a1a1a" stroke="#1a1a1a" stroke-width="0.12" textLength="128.6" lengthAdjust="spacingAndGlyphs">s.1.3, CSR = 0.944, εt1000 = 0.651%</text>
<line x1="329.2" y1="261" x2="361.4" y2="261" stroke="#5B9BD5" stroke-width="1.9" stroke-linecap="round"/>
<text x="365.0" y="264.1" font-size="8.4" fill="#1a1a1a" stroke="#1a1a1a" stroke-width="0.12" textLength="128.6" lengthAdjust="spacingAndGlyphs">s.1.7, CSR = 0.610, εt1000 = 0.610%</text>
<path d="M329.2,271 h13.2 M350.2,271 h11.2" stroke="#000" stroke-width="1.9" stroke-linecap="round" fill="none"/>
<text x="365.0" y="274.1" font-size="8.4" fill="#1a1a1a" stroke="#1a1a1a" stroke-width="0.12" textLength="128.6" lengthAdjust="spacingAndGlyphs">s.1.9, CSR = 0.665, εt1000 = 0.518%</text>
<text x="403.8" y="302.3" text-anchor="middle" font-family="'Liberation Serif', serif" font-size="12.5" fill="#111" textLength="16.2" lengthAdjust="spacingAndGlyphs">(<tspan font-weight="bold">b</tspan>)</text>
</svg>
</body></html>
